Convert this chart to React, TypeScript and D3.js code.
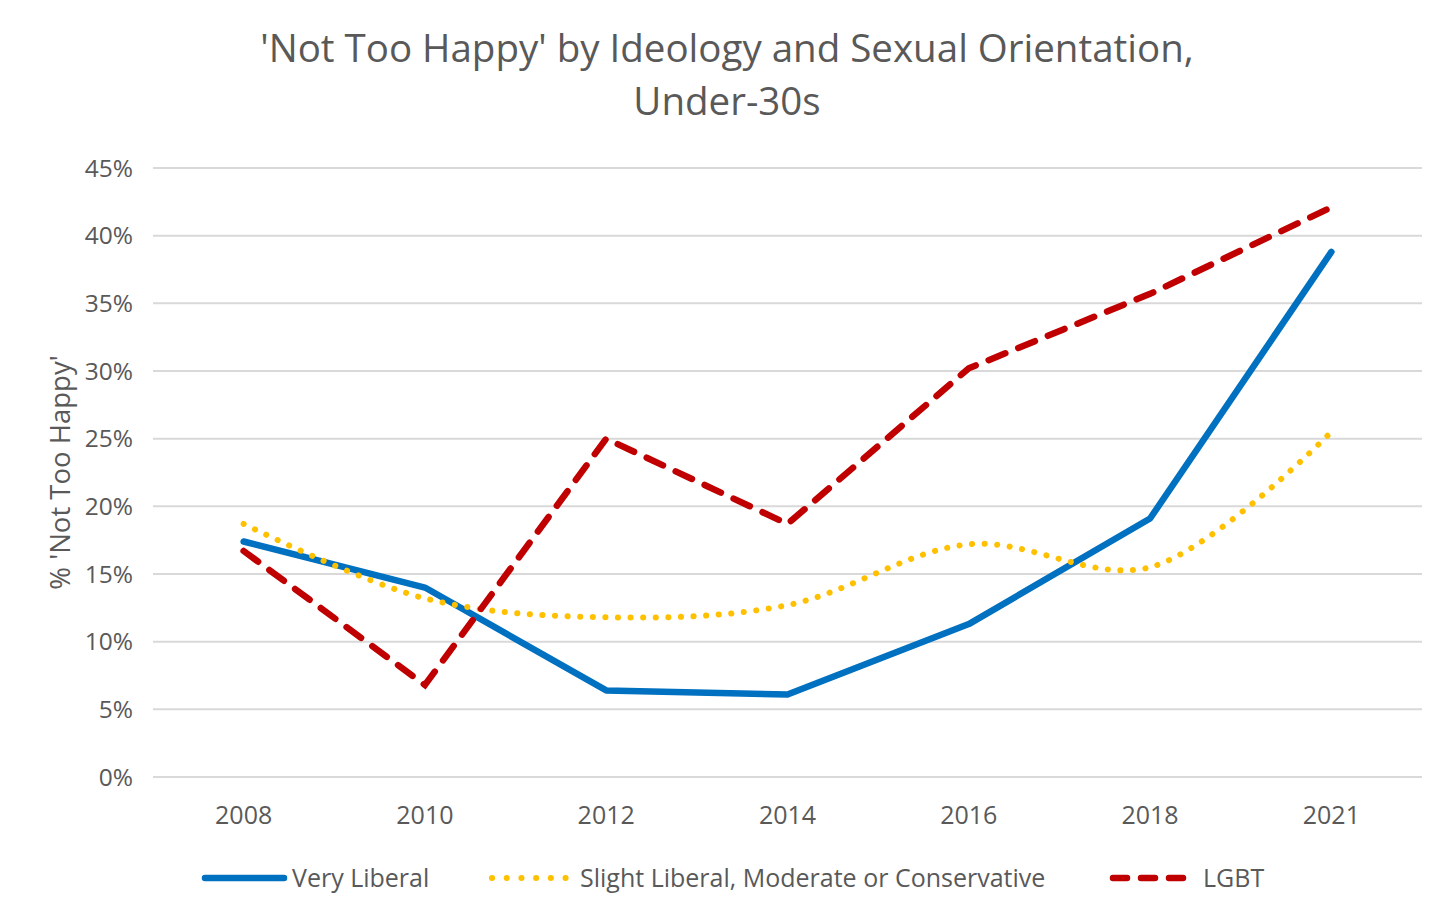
import React from "react";
import * as d3 from "d3";

const years = ["2008", "2010", "2012", "2014", "2016", "2018", "2021"];
const veryLiberal = [17.4, 14.0, 6.4, 6.1, 11.3, 19.1, 38.8];
const slightModCons = [18.7, 13.2, 11.8, 12.7, 17.2, 15.5, 25.5];
const lgbt = [16.7, 6.8, 25.0, 18.7, 30.2, 35.7, 42.1];
const yTicks = [0, 5, 10, 15, 20, 25, 30, 35, 40, 45];

const W = 1456;
const H = 921;
const left = 153;
const right = 1422;
const top = 168;
const bottom = 777;

export default function App() {
  const x = d3.scalePoint<string>().domain(years).range([left, right]).padding(0.5);
  const y = d3.scaleLinear().domain([0, 45]).range([bottom, top]);

  const straight = d3
    .line<number>()
    .x((_, i) => x(years[i]) as number)
    .y((d) => y(d));
  const smooth = d3
    .line<number>()
    .x((_, i) => x(years[i]) as number)
    .y((d) => y(d))
    .curve(d3.curveCatmullRom.alpha(0.5));

  const font = "'Open Sans', 'DejaVu Sans', sans-serif";
  const textColor = "#595959";

  return (
    <svg width={W} height={H} style={{ position: "absolute", left: 0, top: 0, background: "#fff" }}>
      <rect width={W} height={H} fill="#fff" />
      <text x={727} y={62} textAnchor="middle" fontFamily={font} fontSize={38.5} fill={textColor}>
        'Not Too Happy' by Ideology and Sexual Orientation,
      </text>
      <text x={727} y={115} textAnchor="middle" fontFamily={font} fontSize={38.5} fill={textColor}>
        Under-30s
      </text>
      {yTicks.map((t) => (
        <g key={t}>
          <line x1={left} x2={right} y1={y(t)} y2={y(t)} stroke="#d9d9d9" strokeWidth={2} />
          <text x={133} y={y(t)} dy="0.35em" textAnchor="end" fontFamily={font} fontSize={24.5} fill={textColor}>
            {t}%
          </text>
        </g>
      ))}
      {years.map((yr) => (
        <text key={yr} x={x(yr)} y={824} textAnchor="middle" fontFamily={font} fontSize={25} fill={textColor}>
          {yr}
        </text>
      ))}
      <text
        transform={`translate(60, ${y(22.5)}) rotate(-90)`}
        textAnchor="middle"
        dy="0.35em"
        fontFamily={font}
        fontSize={27.5}
        fill={textColor}
      >
        % 'Not Too Happy'
      </text>
      <path d={straight(veryLiberal) || ""} fill="none" stroke="#0070C0" strokeWidth={6.5} strokeLinejoin="round" strokeLinecap="round" />
      <path d={smooth(slightModCons) || ""} fill="none" stroke="#FFC000" strokeWidth={6} strokeLinecap="round" strokeDasharray="0.1 12.5" />
      <path d={straight(lgbt) || ""} fill="none" stroke="#C00000" strokeWidth={6.5} strokeLinecap="round" strokeDasharray="18 14" />
      {/* legend */}
      <g fontFamily={font} fontSize={25} fill={textColor}>
        <line x1={205} x2={284} y1={878} y2={878} stroke="#0070C0" strokeWidth={6.5} strokeLinecap="round" />
        <text x={292} y={878} dy="0.35em">Very Liberal</text>
        <line x1={492} x2={566} y1={878} y2={878} stroke="#FFC000" strokeWidth={6} strokeLinecap="round" strokeDasharray="0.1 14.6" />
        <text x={580} y={878} dy="0.35em">Slight Liberal, Moderate or Conservative</text>
        <line x1={1113} x2={1184} y1={878} y2={878} stroke="#C00000" strokeWidth={6.5} strokeLinecap="round" strokeDasharray="14 14" />
        <text x={1203} y={878} dy="0.35em">LGBT</text>
      </g>
    </svg>
  );
}
